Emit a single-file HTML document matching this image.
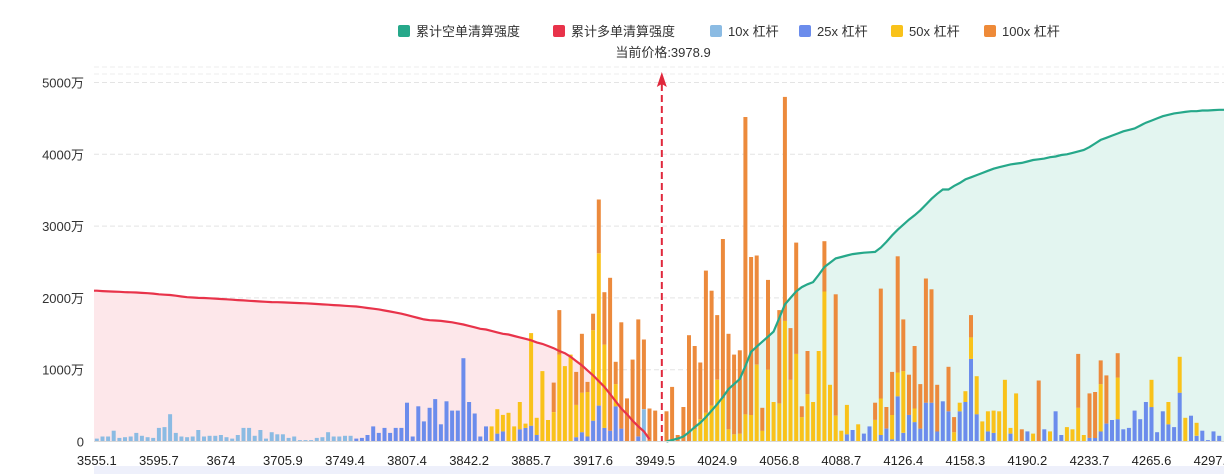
<!DOCTYPE html>
<html><head><meta charset="utf-8"><style>
html,body{margin:0;padding:0;background:#fff;}
svg{display:block;font-family:"Liberation Sans","Noto Sans CJK SC",sans-serif;}
</style></head><body>
<svg id="chart" width="1224" height="474" viewBox="0 0 1224 474" xmlns="http://www.w3.org/2000/svg">
<rect x="0" y="0" width="1224" height="474" fill="#fff"/>
<g id="legend" font-size="13" fill="#333">
 <g><rect x="398" y="25" width="12" height="12" rx="2" fill="#26a88a"/><text x="416" y="36">累计空单清算强度</text></g>
 <g><rect x="553" y="25" width="12" height="12" rx="2" fill="#e8334a"/><text x="571" y="36">累计多单清算强度</text></g>
 <g><rect x="710" y="25" width="12" height="12" rx="2" fill="#8bbbe3"/><text x="728" y="36">10x 杠杆</text></g>
 <g><rect x="799" y="25" width="12" height="12" rx="2" fill="#6b8cec"/><text x="817" y="36">25x 杠杆</text></g>
 <g><rect x="891" y="25" width="12" height="12" rx="2" fill="#f9c21a"/><text x="909" y="36">50x 杠杆</text></g>
 <g><rect x="984" y="25" width="12" height="12" rx="2" fill="#ee8a38"/><text x="1002" y="36">100x 杠杆</text></g>
</g>
<text x="663" y="57" font-size="13" fill="#333" text-anchor="middle">当前价格:3978.9</text>
<g id="grid"></g>
<g id="areas"></g>
<g id="bars"></g>
<g id="lines"></g>
<g id="axes"></g>
</svg>
<script>
const categories = ["3555.1","3595.7","3674","3705.9","3749.4","3807.4","3842.2","3885.7","3917.6","3949.5","4024.9","4056.8","4088.7","4126.4","4158.3","4190.2","4233.7","4265.6","4297.5"];
const yTicks = [0,1000,2000,3000,4000,5000];
const yTickLabels = ["0","1000万","2000万","3000万","4000万","5000万"];
// bar values in units of 10万
const lev10 = [
4,7,7,15,5,6,7,12,8,6, 5,19,20,38,12,7,6,7,16,7, 8,8,9,6,4,9,19,19,8,16, 4,13,10,10,5,7,2,2,2,5,
6,13,7,7,8,8,0,0,0,0, 0,0,0,0,0,0,0,0,0,0, 0,0,0,0,0,0,0,0,0,0, 0,0,0,0,0,0,0,0,0,0,
0,0,0,0,0,0,0,0,0,0, 0,0,0,0,0,0,0,45,0,0, 0,0,0,0,0,0,0,0,0,0, 0,0,0,0,0,0,0,0,0,0,
0,0,0,0,0,0,0,0,0,0, 0,0,0,0,0,0,0,0,0,0, 0,0,0,0,0,0,0,0,0,0, 0,0,0,0,0,0,0,0,0,0,
0,0,0,0,0,0,0,0,0,0, 0,0,0,0,0,0,0,0,0,0, 0,0,0,0,0,0,0,0,0,0, 0,0,0,0,0,0,0,0,0,0];
const lev25 = [
0,0,0,0,0,0,0,0,0,0, 0,0,0,0,0,0,0,0,0,0, 0,0,0,0,0,0,0,0,0,0, 0,0,0,0,0,0,0,0,0,0,
0,0,0,0,0,0,4,5,9,21, 12,19,12,19,19,54,7,49,28,47, 59,24,56,43,43,116,55,39,7,21, 0,11,14,0,0,17,19,22,9,0,
0,0,0,0,0,6,13,7,29,50, 19,15,49,18,0,0,7,0,0,0, 0,0,0,0,0,0,0,0,0,0, 0,0,0,0,0,0,0,0,0,0,
0,0,0,0,0,0,0,0,0,0, 0,0,0,10,16,0,11,21,0,9, 18,3,63,12,37,27,18,54,54,14, 56,42,0,42,55,115,38,0,14,12,
0,0,11,0,0,14,0,0,17,0, 42,9,0,0,0,0,5,5,14,25, 30,31,17,19,43,31,55,48,13,42, 24,20,68,0,36,8,15,2,14,8];
const lev50 = [
0,0,0,0,0,0,0,0,0,0, 0,0,0,0,0,0,0,0,0,0, 0,0,0,0,0,0,0,0,0,0, 0,0,0,0,0,0,0,0,0,0,
0,0,0,0,0,0,0,0,0,0, 0,0,0,0,0,0,0,0,0,0, 0,0,0,0,0,0,0,0,0,0, 21,34,23,40,21,38,6,129,24,98,
30,41,121,105,121,45,55,62,126,212, 116,0,31,0,0,0,0,0,0,0, 0,0,0,0,0,0,17,31,40,50, 86,60,17,10,11,38,37,107,15,100,
55,53,168,86,122,34,66,55,126,209, 79,36,15,41,0,24,0,0,30,51, 0,34,33,86,0,19,0,0,0,0, 0,0,13,12,15,30,53,28,28,31,
42,86,8,67,0,0,11,0,0,14, 0,0,20,17,47,9,0,0,66,0, 0,58,0,0,0,0,0,38,0,0, 31,0,50,33,0,18,0,0,0,0];
const lev100 = [
0,0,0,0,0,0,0,0,0,0, 0,0,0,0,0,0,0,0,0,0, 0,0,0,0,0,0,0,0,0,0, 0,0,0,0,0,0,0,0,0,0,
0,0,0,0,0,0,0,0,0,0, 0,0,0,0,0,0,0,0,0,0, 0,0,0,0,0,0,0,0,0,0, 0,0,0,0,0,0,0,0,0,0,
0,41,62,0,0,46,82,14,23,75, 73,213,31,148,60,114,163,97,46,43, 0,42,76,9,48,148,116,79,198,160, 90,222,133,111,116,414,220,152,32,125,
0,130,312,72,155,15,60,0,0,70, 0,169,0,0,0,0,0,0,24,153, 30,60,162,72,56,87,62,173,158,65, 0,62,21,0,0,31,0,0,0,0,
0,0,0,0,17,0,0,85,0,0, 0,0,0,0,75,0,62,64,33,67, 0,34,0,0,0,0,0,0,0,0, 0,0,0,0,0,0,0,0,0,0];
// cumulative long liquidation (万), indices 0..98
const longCum = [
2100,2095,2090,2088,2085,2080,2078,2075,2070,2065,2060,2050,2045,2040,2030,2020,2010,2005,2000,1998,
1995,1990,1985,1980,1975,1970,1965,1960,1955,1950,1945,1942,1940,1938,1935,1930,1928,1925,1920,1915,
1910,1905,1900,1895,1890,1885,1880,1870,1860,1850,1840,1825,1810,1795,1780,1760,1740,1720,1700,1690,
1685,1680,1670,1660,1645,1630,1610,1590,1570,1560,1540,1520,1500,1490,1470,1450,1430,1410,1380,1360,
1330,1300,1260,1230,1180,1120,1060,990,920,840,760,660,560,460,380,290,210,140,30];
// cumulative short liquidation (万), indices 101..199
const shortStart = 101;
const shortCum = [
0,20,40,70,130,200,260,340,430,520,620,730,800,870,1050,1250,1320,1390,1460,1530,
1720,1910,2000,2090,2150,2190,2220,2320,2430,2490,2550,2570,2590,2610,2620,2630,2635,2640,2700,2780,
2870,2950,3020,3090,3150,3220,3300,3380,3450,3510,3510,3560,3600,3650,3680,3710,3740,3770,3800,3820,
3840,3860,3870,3880,3900,3920,3930,3940,3960,3970,3990,4000,4020,4040,4060,4100,4150,4200,4230,4260,
4290,4320,4340,4360,4400,4440,4470,4500,4530,4550,4570,4580,4590,4600,4600,4610,4610,4615,4620];
const currentIndex = 100;

const NS = "http://www.w3.org/2000/svg";
const X0 = 94, BAND = 5.64, BASE = 441.5, PX_PER_WAN = 0.0718;
function xPos(i){ return X0 + (i + 0.5) * BAND; }
function yWan(v){ return BASE - v * PX_PER_WAN; }
function yUnit(v){ return yWan(v * 10); }
function mk(tag, attrs, parent){
  const e = document.createElementNS(NS, tag);
  for (const k in attrs) e.setAttribute(k, attrs[k]);
  parent.appendChild(e); return e;
}
const grid = document.getElementById('grid');
const areas = document.getElementById('areas');
const bars = document.getElementById('bars');
const lines = document.getElementById('lines');
const axes = document.getElementById('axes');

// grid + y labels
yTicks.forEach((t, k) => {
  const y = yWan(t);
  if (t > 0) {
    const g = mk('line', {x1: 94, x2: 1224, y1: y, y2: y, stroke: '#e4e4e4', 'stroke-dasharray': '5,3'}, grid);
    
    
  }
  const tx = mk('text', {x: 84, y: y + 5, 'font-size': 13, fill: '#333', 'text-anchor': 'end'}, axes);
  tx.textContent = yTickLabels[k];
  
  
});
[67, 74].forEach(y => {
  const g = mk('line', {x1: 94, x2: 1224, y1: y, y2: y, stroke: '#ececec', 'stroke-dasharray': '5,3'}, grid);
  
  
});

// areas
let dl = 'M' + X0 + ',' + BASE + ' L' + X0 + ',' + yWan(longCum[0]);
longCum.forEach((v, i) => { dl += ' L' + xPos(i).toFixed(1) + ',' + yWan(v).toFixed(1); });
dl += ' L' + xPos(longCum.length - 1).toFixed(1) + ',' + BASE + ' Z';
const la = mk('path', {d: dl, fill: '#fde7ea'}, areas);


let ds = 'M' + xPos(shortStart).toFixed(1) + ',' + BASE;
shortCum.forEach((v, i) => { ds += ' L' + xPos(shortStart + i).toFixed(1) + ',' + yWan(v).toFixed(1); });
ds += ' L1224,' + yWan(shortCum[shortCum.length - 1]).toFixed(1) + ' L1224,' + BASE + ' Z';
const sa = mk('path', {d: ds, fill: '#e3f5f0'}, areas);



// bars
const series = [[lev10, '#8bbbe3', '10x'], [lev25, '#6b8cec', '25x'], [lev50, '#f9c21a', '50x'], [lev100, '#ec8a3c', '100x']];
for (let i = 0; i < lev10.length; i++) {
  let acc = 0;
  series.forEach(s => {
    const v = s[0][i];
    if (v > 0) {
      const y1 = yUnit(acc), y2 = yUnit(acc + v);
      const r = mk('rect', {x: (xPos(i) - 2).toFixed(1), y: y2.toFixed(1), width: 4, height: (y1 - y2).toFixed(1), fill: s[1]}, bars);
      
      
      acc += v;
    }
  });
}

// lines
let pl = '';
longCum.forEach((v, i) => { pl += (i ? ' L' : 'M') + xPos(i).toFixed(1) + ',' + yWan(v).toFixed(1); });
pl = 'M' + X0 + ',' + yWan(longCum[0]).toFixed(1) + ' ' + pl.replace('M', 'L');
const ll = mk('path', {d: pl, fill: 'none', stroke: '#e8334a', 'stroke-width': 2.2}, lines);


let ps = '';
shortCum.forEach((v, i) => { ps += (i ? ' L' : 'M') + xPos(shortStart + i).toFixed(1) + ',' + yWan(v).toFixed(1); });
ps += ' L1224,' + yWan(shortCum[shortCum.length - 1]).toFixed(1);
const sl = mk('path', {d: ps, fill: 'none', stroke: '#26a88a', 'stroke-width': 2.2}, lines);



// current price marker
const cx = xPos(currentIndex) + 1;
const ml = mk('line', {x1: cx, x2: cx, y1: 84, y2: BASE, stroke: '#e0283c', 'stroke-width': 2, 'stroke-dasharray': '7,4'}, lines);


const ah = mk('path', {d: 'M' + cx + ',72 L' + (cx - 5) + ',87 L' + cx + ',84 L' + (cx + 5) + ',87 Z', fill: '#e0283c'}, lines);



// x axis
const band = mk('rect', {x: 94, y: 466, width: 1130, height: 8, fill: '#eef0fb'}, axes);


const ax = mk('line', {x1: 94, x2: 1224, y1: BASE, y2: BASE, stroke: '#d8d8d8'}, axes);


categories.forEach((c, k) => {
  const t = mk('text', {x: xPos(k * 11).toFixed(1), y: 465, 'font-size': 13, fill: '#222', 'text-anchor': 'middle'}, axes);
  t.textContent = c;
  
  
});
</script>
</body></html>
